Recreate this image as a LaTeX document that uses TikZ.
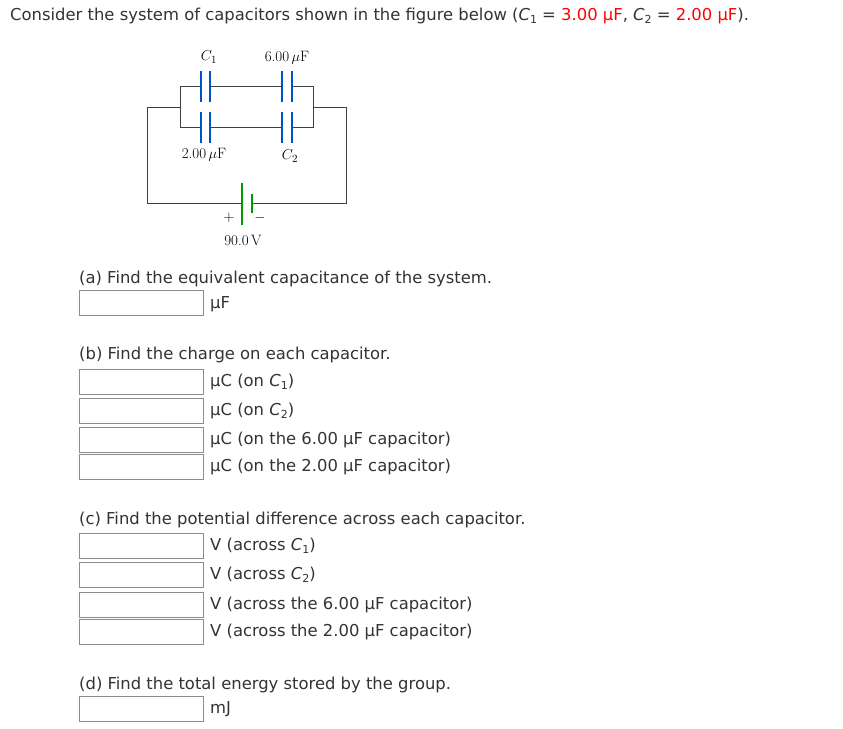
\documentclass[tikz,border=0pt]{standalone}
\usepackage{fontspec}
\setmainfont{DejaVu Sans}
\newfontfamily\serifm{Latin Modern Roman}
\newcommand{\Cq}[1]{\textit{C}\raisebox{-0.35ex}{\fontsize{11}{12}\selectfont #1}}
\begin{document}
\begin{tikzpicture}[x=1pt,y=-1pt,
  wire/.style={line width=0.8pt,draw=black!75},
  cplate/.style={line width=1.6pt,draw=blue!60!cyan!80!black},
  bplate/.style={line width=1.6pt,draw=green!60!black},
  txt/.style={anchor=west,inner sep=0,text=black!80,font=\fontsize{16.4}{19}\selectfont},
  lab/.style={inner sep=0,font=\serifm\fontsize{15}{17}\selectfont},
  box/.style={draw=black!45,line width=0.7pt,minimum width=124pt,minimum height=25pt,anchor=north west,inner sep=0}]
\useasboundingbox (0,0) rectangle (843,728);
% circuit
\draw[wire] (180,107) -- (147,107) -- (147,203) -- (242,203);
\draw[wire] (252,203) -- (346,203) -- (346,107) -- (313,107);
\draw[wire] (201,86) -- (180,86) -- (180,127) -- (201,127);
\draw[wire] (210,86) -- (282,86); \draw[wire] (292,86) -- (313,86) -- (313,127) -- (292,127);
\draw[wire] (210,127) -- (282,127);
\foreach \x in {201,210,282,292}{
  \draw[cplate] (\x,71) -- (\x,102);
  \draw[cplate] (\x,112) -- (\x,143);}
\draw[bplate] (242,183) -- (242,225);
\draw[bplate] (252,194) -- (252,213);
\node[lab] (c1) at (209,57) {$C_1$};
\node[lab] (c6) at (287,58) {6.00\,$\mu$F};
\node[lab] (c2l) at (204,155) {2.00\,$\mu$F};
\node[lab] (c2) at (290,156) {$C_2$};
\node[lab] (pl) at (229,218) {+};
\node[lab] (mi) at (260,218) {$-$};
\node[lab] (v) at (243,240) {90.0\,V};
% texts
\node[txt] (t0) at (10,16) {Consider the system of capacitors shown in the figure below (\Cq{1} = \textcolor{red}{3.00 µF}, \Cq{2} = \textcolor{red}{2.00 µF}).};
\node[txt] (ta) at (79,279) {(a) Find the equivalent capacitance of the system.};
\node[box] (ba) at (79,290) {}; \node[txt] (ua) at (210,304) {µF};
\node[txt] (tb) at (79,355) {(b) Find the charge on each capacitor.};
\node[box] (b1) at (79,369) {}; \node[txt] (u1) at (210,382) {µC (on \Cq{1})};
\node[box] (b2) at (79,398) {}; \node[txt] (u2) at (210,411) {µC (on \Cq{2})};
\node[box] (b3) at (79,427) {}; \node[txt] (u3) at (210,440) {µC (on the 6.00 µF capacitor)};
\node[box] (b4) at (79,454) {}; \node[txt] (u4) at (210,467) {µC (on the 2.00 µF capacitor)};
\node[txt] (tc) at (79,520) {(c) Find the potential difference across each capacitor.};
\node[box] (c1b) at (79,533) {}; \node[txt] (v1) at (210,546) {V (across \Cq{1})};
\node[box] (c2b) at (79,562) {}; \node[txt] (v2) at (210,575) {V (across \Cq{2})};
\node[box] (c3b) at (79,592) {}; \node[txt] (v3) at (210,605) {V (across the 6.00 µF capacitor)};
\node[box] (c4b) at (79,619) {}; \node[txt] (v4) at (210,632) {V (across the 2.00 µF capacitor)};
\node[txt] (td) at (79,685) {(d) Find the total energy stored by the group.};
\node[box] (db) at (79,696) {}; \node[txt] (ud) at (210,709) {mJ};
\end{tikzpicture}
\end{document}
